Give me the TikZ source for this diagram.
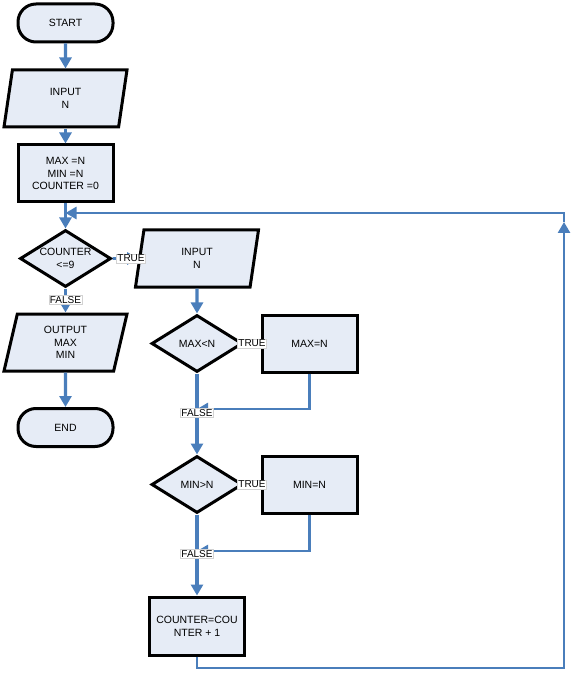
\documentclass[tikz,border=0pt]{standalone}
\usepackage{fontspec}
\setmainfont{Liberation Sans}
\usetikzlibrary{shapes.geometric,arrows.meta}
\definecolor{lineblue}{RGB}{74,126,187}
\definecolor{boxfill}{RGB}{230,236,246}
\begin{document}
\begin{tikzpicture}[x=1pt,y=-1pt,
  every node/.style={font=\fontsize{10.5}{12.7}\selectfont, align=center},
  base/.style={draw=black, line width=3pt, fill=boxfill, inner sep=1pt},
  terminal/.style={base, rectangle, rounded corners=18pt, minimum width=95pt, minimum height=38pt},
  procbox/.style={base, rectangle, minimum width=95pt, minimum height=57pt},
  iobox/.style={base, trapezium, trapezium left angle=69, trapezium right angle=111, minimum width=123pt, minimum height=57pt, trapezium stretches body},
  decision/.style={base, diamond, aspect=1.6, minimum width=91pt, minimum height=57pt},
  conn/.style={draw=lineblue, line width=3.2pt, -{Triangle[width=12pt,length=11pt]}},
  thinconn/.style={draw=lineblue, line width=2.6pt, -{Triangle[width=12pt,length=11pt]}},
  thinline/.style={draw=lineblue, line width=2.6pt},
  lbl/.style={fill=white, draw=gray!35, line width=0.4pt, inner sep=1pt, font=\fontsize{10}{12}\selectfont}
]
\useasboundingbox (0,0) rectangle (581,700);

% column 1
\node[terminal] (start) at (65.5,23) {START};
\node[iobox] (in1) at (65.5,98.5) {INPUT\\N};
\node[procbox] (init) at (65.5,173.5) {MAX =N\\MIN =N\\COUNTER =0};
\node[decision] (cond) at (65.5,258.5) {COUNTER\\<=9};
\node[iobox] (out) at (65.5,342.5) {OUTPUT\\MAX\\MIN};
\node[terminal] (end) at (65.5,427.5) {END};

% column 2
\node[iobox] (in2) at (197,258.5) {INPUT\\N};
\node[decision] (mxc) at (197,343.5) {MAX<N};
\node[procbox] (mxs) at (309.5,343.5) {MAX=N};
\node[decision] (mnc) at (197,484.5) {MIN>N};
\node[procbox] (mns) at (309.5,484.5) {MIN=N};
\node[procbox, minimum height=58pt] (cnt) at (197,626) {COUNTER=COU\\NTER + 1};

% helper coordinates
\coordinate (j0) at (65.5,213);
\coordinate (rtop) at (564,213);
\coordinate (rarr) at (564,222);
\coordinate (j1) at (197,409);
\coordinate (j2) at (197,551);
\coordinate (bot) at (197,668);

% connectors
\draw[conn] (start) -- (in1);
\draw[conn] (in1) -- (init);
\draw[conn] (init) -- (cond);
\draw[thinconn] (cond) -- (out);
\draw[conn] (out) -- (end);
\draw[thinconn] (cond.east) -- (in2.west);
\draw[conn] (in2) -- (mxc);
\draw[thinline] (mxc.east) -- (mxs.west);
\draw[conn] (mxc) -- (mnc);
\draw[thinconn] (mxs.south) |- (j1);
\draw[thinline] (mnc.east) -- (mns.west);
\draw[conn] (mnc) -- (cnt);
\draw[thinconn] (mns.south) |- (j2);
\draw[thinconn] (cnt.south) -- (bot) -| (rarr);
\draw[thinconn] (rarr) -- (rtop) -- (j0);

% labels
\node[lbl] at (131,258.5) {TRUE};
\node[lbl] at (65.5,300) {FALSE};
\node[lbl] at (252,343.5) {TRUE};
\node[lbl] at (197,413) {FALSE};
\node[lbl] at (252,484.5) {TRUE};
\node[lbl] at (197,554) {FALSE};
\end{tikzpicture}
\end{document}
